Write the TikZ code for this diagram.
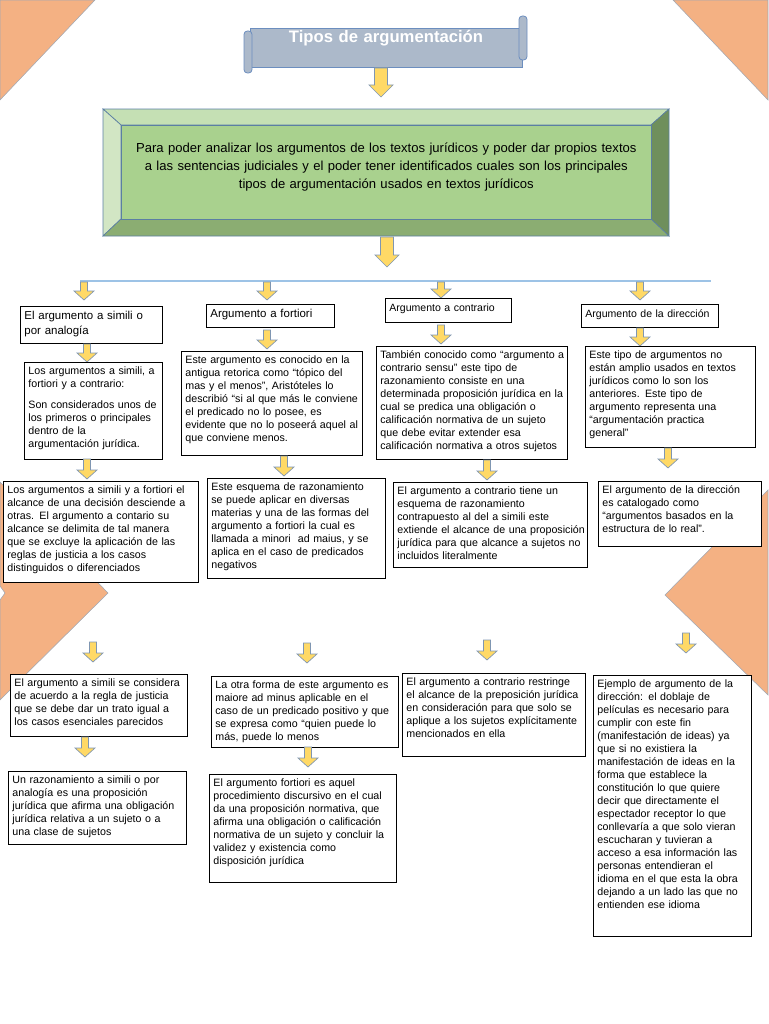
\documentclass[tikz,border=0pt]{standalone}
\usepackage{fontspec}
\setmainfont{Liberation Sans}

\definecolor{peach}{HTML}{F4B183}
\definecolor{peachedge}{HTML}{A0A8B4}
\definecolor{scrollfill}{HTML}{ACB9CA}
\definecolor{scrolledge}{HTML}{6C8EBF}
\definecolor{face}{HTML}{A9D18E}
\definecolor{bevtop}{HTML}{C5E0B4}
\definecolor{bevleft}{HTML}{D2E6C4}
\definecolor{bevright}{HTML}{6F8F5C}
\definecolor{bevbot}{HTML}{8BAD72}
\definecolor{bevedge}{HTML}{5B7FA3}
\definecolor{arrfill}{HTML}{FFD966}
\definecolor{arredge}{HTML}{7F96B2}
\definecolor{linkblue}{HTML}{9DC3E6}

% lines of a box, set as given (no re-wrapping)
\newcommand{\lns}[1]{\begin{tabular}[t]{@{}l@{}}#1\end{tabular}}

\begin{document}
\begin{tikzpicture}[x=0.75pt, y=-0.75pt,
	txt/.style={draw=black, fill=white, line width=0.6pt, align=left, anchor=north west,
		inner xsep=3pt, inner ysep=3pt, text height=6pt, font=\fontsize{8pt}{9.75pt}\selectfont},
	head/.style={txt, text height=7pt, font=\fontsize{8.6pt}{11pt}\selectfont},
	boxw/.style={text width={#1*0.75pt-6pt}},
	boxh/.style={text depth={#1*0.75pt-12pt}},
	headh/.style={text depth={#1*0.75pt-13pt}},
	deco/.style={fill=peach, draw=peachedge, line width=0.4pt},
	pics/yarr/.style={code={
		\filldraw[fill=arrfill, draw=arredge, line width=0.5pt]
			(-3.5,0) -- (3.5,0) -- (3.5,#1-9) -- (10,#1-9) -- (0,#1) -- (-10,#1-9) -- (-3.5,#1-9) -- cycle;}},
	pics/bigyarr/.style={code={
		\filldraw[fill=arrfill, draw=arredge, line width=0.5pt]
			(-6.5,0) -- (6.5,0) -- (6.5,#1-12) -- (12,#1-12) -- (0,#1) -- (-12,#1-12) -- (-6.5,#1-12) -- cycle;}}]
	\useasboundingbox (0,0) rectangle (768,1024);

	% orange corner pieces
	\filldraw[deco] (0,0) -- (95,0) -- (0,100) -- cycle;
	\filldraw[deco] (673,0) -- (768,0) -- (768,100) -- cycle;
	\filldraw[deco] (0,482) -- (108,593) -- (0,700) -- (0,600) -- (5,593) -- (0,586) -- cycle;
	\filldraw[deco] (768,490) -- (665,595) -- (768,695) -- cycle;

	% title scroll
	\node[fill=scrollfill, draw=scrolledge, line width=0.6pt, anchor=north, text width=196.5pt, align=center,
		inner xsep=3.75pt, inner ysep=1.5pt, text height=9pt, text depth=17.25pt, text=white,
		font=\fontsize{12.5pt}{14pt}\selectfont\bfseries] (title) at (386,28) {Tipos de argumentación};
	\filldraw[fill=scrollfill, draw=scrolledge, line width=0.6pt, rounded corners=2.5pt] (244,31) rectangle (252,73);
	\filldraw[fill=scrollfill, draw=scrolledge, line width=0.6pt, rounded corners=2.5pt] (519,16) rectangle (527,60);
	\pic at (381,68) {bigyarr=29};

	% bevelled green box
	\filldraw[fill=bevtop, draw=bevedge, line width=0.5pt] (103,109) -- (669,109) -- (651,125) -- (121,125) -- cycle;
	\filldraw[fill=bevleft, draw=bevedge, line width=0.5pt] (103,109) -- (121,125) -- (121,219) -- (103,236) -- cycle;
	\filldraw[fill=bevright, draw=bevedge, line width=0.5pt] (669,109) -- (669,236) -- (651,219) -- (651,125) -- cycle;
	\filldraw[fill=bevbot, draw=bevedge, line width=0.5pt] (103,236) -- (669,236) -- (651,219) -- (121,219) -- cycle;
	\node[fill=face, draw=bevedge, line width=0.5pt, anchor=north west, text width=390pt, align=center,
		inner xsep=3.75pt, inner ysep=3pt, text height=17.25pt, text depth=47.25pt,
		font=\fontsize{9.8pt}{13.5pt}\selectfont] (intro) at (121,125)
		{Para poder analizar los argumentos de los textos jurídicos y poder dar propios textos\\
		a las sentencias judiciales y el poder tener identificados cuales son los principales\\
		tipos de argumentación usados en textos jurídicos};
	\pic at (387,237) {bigyarr=30};

	% bus line
	\coordinate (busL) at (80,281);
	\coordinate (busR) at (711,281);
	\draw[linkblue, line width=1pt] (busL) -- (busR);
	\pic at (84,282) {yarr=18};
	\pic at (267,282) {yarr=18};
	\pic at (441,282) {yarr=16};
	\pic at (640,282) {yarr=18};

	% headers
	\node[head, boxw=142, headh=37] (sim1) at (20,306) {\lns{El argumento a simili o\\por analogía}};
	\node[head, boxw=128, headh=23] (fort1) at (206,304) {\lns{Argumento a fortiori}};
	\node[head, boxw=126, headh=24, font=\fontsize{7.9pt}{10pt}\selectfont] (contr1) at (385,298) {\lns{Argumento a contrario}};
	\node[head, boxw=137, headh=23, font=\fontsize{7.9pt}{10pt}\selectfont] (dir1) at (581,304) {\lns{Argumento de la dirección}};

	\pic at (87,344) {yarr=18};
	\pic at (267,330) {yarr=19};
	\pic at (441,325) {yarr=19};
	\pic at (640,328) {yarr=18};

	% second row
	\node[txt, boxw=138, boxh=97] (sim2) at (24,362)
		{\lns{Los argumentos a simili, a\\fortiori y a contrario:\\[6pt]Son considerados unos de\\los primeros o principales\\dentro de la\\argumentación jurídica.}};
	\node[txt, boxw=181, boxh=104] (fort2) at (181,351)
		{\lns{Este argumento es conocido en la\\antigua retorica como “tópico del\\mas y el menos”, Aristóteles lo\\describió “si al que más le conviene\\el predicado no lo posee, es\\evidente que no lo poseerá aquel al\\que conviene menos.}};
	\node[txt, boxw=191, boxh=113] (contr2) at (376,346)
		{\lns{También conocido como “argumento a\\contrario sensu” este tipo de\\razonamiento consiste en una\\determinada proposición jurídica en la\\cual se predica una obligación o\\calificación normativa de un sujeto\\que debe evitar extender esa\\calificación normativa a otros sujetos}};
	\node[txt, boxw=170, boxh=101] (dir2) at (585,346)
		{\lns{Este tipo de argumentos no\\están amplio usados en textos\\jurídicos como lo son los\\anteriores. Este tipo de\\argumento representa una\\“argumentación practica\\general”}};

	\pic at (87,459) {yarr=20};
	\pic at (284,456) {yarr=20};
	\pic at (487,460) {yarr=20};
	\pic at (668,448) {yarr=20};

	% third row
	\node[txt, boxw=195, boxh=101] (sim3) at (3,481)
		{\lns{Los argumentos a simili y a fortiori el\\alcance de una decisión desciende a\\otras. El argumento a contario su\\alcance se delimita de tal manera\\que se excluye la aplicación de las\\reglas de justicia a los casos\\distinguidos o diferenciados}};
	\node[txt, boxw=178, boxh=100] (fort3) at (207,478)
		{\lns{Este esquema de razonamiento\\se puede aplicar en diversas\\materias y una de las formas del\\argumento a fortiori la cual es\\llamada a minori~ ad maius, y se\\aplica en el caso de predicados\\negativos}};
	\node[txt, boxw=194, boxh=85] (contr3) at (393,482)
		{\lns{El argumento a contrario tiene un\\esquema de razonamiento\\contrapuesto al del a simili este\\extiende el alcance de una proposición\\jurídica para que alcance a sujetos no\\incluidos literalmente}};
	\node[txt, boxw=163, boxh=65] (dir3) at (598,481)
		{\lns{El argumento de la dirección\\es catalogado como\\“argumentos basados en la\\estructura de lo real”.}};

	\pic at (93,642) {yarr=20};
	\pic at (307,643) {yarr=20};
	\pic at (487,640) {yarr=20};
	\pic at (686,633) {yarr=20};

	% fourth row
	\node[txt, boxw=177, boxh=62] (sim4) at (10,674)
		{\lns{El argumento a simili se considera\\de acuerdo a la regla de justicia\\que se debe dar un trato igual a\\los casos esenciales parecidos}};
	\node[txt, boxw=187, boxh=71] (fort4) at (211,676)
		{\lns{La otra forma de este argumento es\\maiore ad minus aplicable en el\\caso de un predicado positivo y que\\se expresa como “quien puede lo\\más, puede lo menos}};
	\node[txt, boxw=183, boxh=83] (contr4) at (402,673)
		{\lns{El argumento a contrario restringe\\el alcance de la preposición jurídica\\en consideración para que solo se\\aplique a los sujetos explícitamente\\mencionados en ella}};
	\node[txt, boxw=158, boxh=261] (dir4) at (593,675)
		{\lns{Ejemplo de argumento de la\\dirección: el doblaje de\\películas es necesario para\\cumplir con este fin\\(manifestación de ideas) ya\\que si no existiera la\\manifestación de ideas en la\\forma que establece la\\constitución lo que quiere\\decir que directamente el\\espectador receptor lo que\\conllevaría a que solo vieran\\escucharan y tuvieran a\\acceso a esa información las\\personas entendieran el\\idioma en el que esta la obra\\dejando a un lado las que no\\entienden ese idioma}};

	\pic at (85,737) {yarr=20};
	\pic at (308,747) {yarr=20};

	% fifth row
	\node[txt, boxw=178, boxh=73] (sim5) at (8,771)
		{\lns{Un razonamiento a simili o por\\analogía es una proposición\\jurídica que afirma una obligación\\jurídica relativa a un sujeto o a\\una clase de sujetos}};
	\node[txt, boxw=187, boxh=108] (fort5) at (209,774)
		{\lns{El argumento fortiori es aquel\\procedimiento discursivo en el cual\\da una proposición normativa, que\\afirma una obligación o calificación\\normativa de un sujeto y concluir la\\validez y existencia como\\disposición jurídica}};
\end{tikzpicture}
\end{document}
